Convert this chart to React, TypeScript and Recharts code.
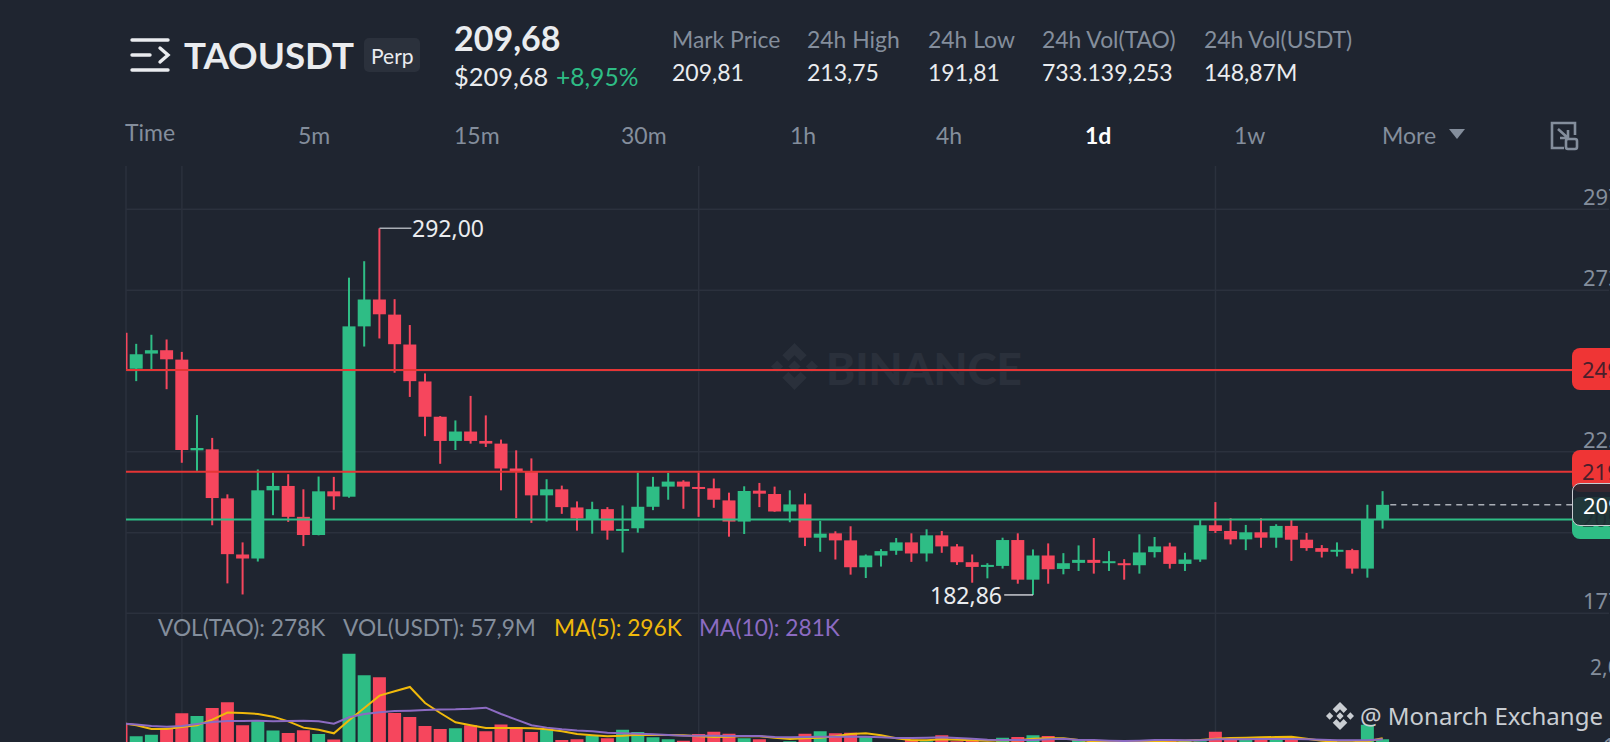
import {
  Bar,
  CartesianGrid,
  Cell,
  ComposedChart,
  Line,
  ReferenceLine,
  XAxis,
  YAxis,
} from 'recharts';

// one entry per daily candle, first one is cut off by the left edge of the chart
const opens = [
  260.9, 250.2, 254.7, 255.7, 252.9, 225.9, 226.2, 211.6, 194.9, 193.7, 214.0, 215.3, 206.1, 200.7,
  213.7, 212.1, 262.8, 270.8, 266.3, 257.4, 246.4, 235.9, 228.7, 231.5, 228.7, 227.9, 220.5, 219.5,
  212.5, 214.3, 208.9, 205.3, 208.4, 202.1, 202.7, 209.1, 215.1, 216.6, 215.0, 214.6, 211.0, 204.7,
  213.9, 212.9, 207.7, 209.8, 199.9, 201.2, 199.1, 191.1, 194.6, 196.0, 198.5, 195.2, 200.6, 197.3,
  192.6, 191.2, 191.5, 199.2, 187.4, 194.6, 190.6, 192.4, 193.3, 192.4, 192.3, 191.7, 195.6, 197.3,
  192.1, 193.4, 203.6, 201.9, 199.4, 201.5, 199.9, 203.4, 199.3, 196.8, 195.7, 196.2, 190.7, 205.4,
];
const closes = [
  250.0, 254.5, 255.7, 253.0, 226.0, 226.6, 211.7, 195.0, 193.7, 214.0, 215.3, 206.1, 200.7, 213.7,
  212.2, 262.8, 270.8, 266.4, 257.5, 246.5, 235.9, 228.7, 231.5, 228.7, 227.9, 220.5, 219.6, 212.5,
  214.3, 209.0, 205.6, 208.4, 202.0, 202.5, 209.1, 215.1, 216.6, 215.1, 214.5, 211.2, 204.7, 213.8,
  213.0, 207.7, 209.8, 199.9, 201.1, 199.1, 191.1, 194.6, 195.9, 198.5, 195.2, 200.6, 197.3, 192.6,
  191.2, 191.8, 199.2, 187.4, 194.6, 190.5, 192.3, 193.3, 192.4, 192.9, 191.7, 195.5, 197.3, 192.1,
  193.4, 203.6, 201.9, 199.4, 201.5, 199.9, 203.4, 199.3, 196.8, 195.7, 196.3, 190.7, 205.4, 209.68,
];
const highs = [
  261.0, 257.6, 260.3, 258.9, 255.2, 236.4, 229.6, 212.8, 198.5, 220.2, 219.3, 218.8, 214.3, 218.1,
  218.0, 277.3, 282.2, 292.0, 270.9, 263.2, 248.8, 236.1, 234.8, 242.1, 236.3, 229.1, 225.9, 223.5,
  217.3, 215.4, 210.7, 210.6, 209.0, 209.5, 219.3, 218.0, 219.2, 217.0, 219.3, 217.5, 213.3, 215.2,
  216.2, 215.1, 214.0, 213.1, 204.9, 201.8, 203.3, 194.9, 196.5, 199.8, 201.2, 202.4, 201.9, 198.0,
  194.9, 192.3, 199.9, 201.2, 196.4, 198.2, 195.3, 197.6, 199.8, 195.9, 193.5, 200.9, 200.1, 198.4,
  195.4, 205.2, 210.5, 205.7, 203.7, 205.7, 203.9, 205.2, 201.3, 197.7, 198.5, 196.6, 209.7, 213.75,
];
const lows = [
  249.8, 246.5, 250.0, 244.1, 222.2, 219.8, 203.6, 186.3, 183.0, 192.8, 206.6, 204.6, 197.4, 200.6,
  208.2, 211.8, 256.8, 259.2, 249.0, 241.8, 230.1, 221.9, 226.0, 227.9, 226.9, 214.0, 205.7, 204.3,
  204.7, 207.0, 202.0, 201.1, 199.3, 195.5, 201.4, 208.1, 211.2, 208.5, 206.1, 208.8, 200.2, 201.0,
  209.0, 207.6, 204.5, 197.4, 195.7, 193.4, 188.9, 187.9, 191.3, 194.8, 192.7, 192.8, 195.4, 191.8,
  186.5, 187.8, 190.7, 186.2, 182.86, 186.2, 189.0, 190.0, 189.2, 190.0, 187.4, 189.2, 194.0, 190.7,
  190.0, 192.7, 201.3, 197.9, 196.2, 196.9, 196.9, 193.0, 196.0, 194.0, 194.3, 189.2, 188.0, 202.6,
];
// volumes and moving averages in thousands of TAO
const volumes = [
  550, 328, 356, 456, 712, 667, 800, 895, 512, 589, 423, 384, 428, 367, 273, 1706, 1345, 1312, 717,
  650, 500, 450, 462, 512, 412, 523, 484, 400, 439, 267, 278, 339, 295, 439, 400, 311, 278, 256, 367,
  406, 372, 295, 278, 234, 245, 372, 411, 378, 389, 317, 205, 205, 272, 245, 345, 245, 267, 200, 306,
  317, 345, 334, 234, 267, 267, 234, 222, 245, 234, 256, 250, 245, 406, 267, 267, 284, 278, 284, 222,
  205, 205, 217, 522, 278,
];
const ma5 = [
  550, 512, 450, 450, 484, 512, 606, 723, 717, 700, 656, 578, 473, 439, 378, 595, 800, 1006, 1078,
  1150, 884, 717, 562, 512, 467, 467, 467, 462, 445, 412, 367, 345, 328, 339, 356, 350, 350, 345, 328,
  317, 322, 333, 328, 306, 283, 295, 306, 328, 367, 378, 345, 295, 261, 261, 278, 272, 261, 256, 261,
  261, 289, 295, 295, 267, 245, 234, 234, 239, 239, 256, 256, 267, 289, 300, 306, 311, 317, 322, 289,
  256, 234, 228, 245, 296,
];
const ma10 = [
  545, 523, 500, 489, 500, 534, 567, 584, 584, 589, 578, 584, 589, 578, 539, 645, 700, 728, 750, 756,
  767, 773, 778, 789, 806, 700, 606, 512, 473, 445, 423, 411, 389, 378, 372, 361, 350, 339, 339, 339,
  333, 333, 333, 317, 311, 317, 322, 322, 322, 322, 311, 300, 300, 306, 311, 300, 289, 272, 267, 267,
  267, 278, 289, 267, 267, 256, 250, 256, 267, 267, 261, 261, 278, 278, 278, 284, 284, 284, 278, 272,
  261, 261, 261, 281,
];

const priceTicks = [297.65, 273.55, 249.5, 225.5, 201.4, 177.4];
const priceLines = { red1: 249.8, red2: 219.5, green: 205.3 };
const lastPrice = 209.68;
const gridDays = [3, 37, 71];

const statLabels = ['Mark Price', '24h High', '24h Low', '24h Vol(TAO)', '24h Vol(USDT)'];
const statValues = ['209,81', '213,75', '191,81', '733.139,253', '148,87M'];
const tabLabels = ['Time', '5m', '15m', '30m', '1h', '4h', '1d', '1w', 'More'];
const statX = [672, 807, 928, 1042, 1204];
const tabX = [125, 298, 454, 621, 790, 936, 1085, 1234, 1382];

const chartData = opens.map((open, i) => ({
  day: i - 1,
  open,
  close: closes[i],
  high: highs[i],
  low: lows[i],
  range: [lows[i], highs[i]],
  volume: volumes[i],
  ma5: ma5[i],
  ma10: ma10[i],
}));

const GREEN = '#2EBD85';
const RED = '#F6465D';
const BG = '#1F2530';
const GRID = '#2B313D';
const MUTED = '#848E9C';
const LIGHT = '#EAECEF';
const X_DOMAIN: [number, number] = [-0.678, 96.89];
const CHART_FONT = '"Noto Sans", sans-serif';
const HEAD_FONT = 'Lato, sans-serif';

const Candle = (props: any) => {
  const { x, y, width, height, payload } = props;
  const perUnit = Math.abs(height) / (payload.high - payload.low);
  const toY = (p: number) => y + (payload.high - p) * perUnit;
  const top = toY(Math.max(payload.open, payload.close));
  const bottom = toY(Math.min(payload.open, payload.close));
  const color = payload.close >= payload.open ? GREEN : RED;
  return (
    <g>
      <rect x={x + width / 2 - 1} y={y} width={2} height={Math.abs(height)} fill={color} />
      <rect x={x} y={top} width={width} height={Math.max(bottom - top, 2)} fill={color} />
    </g>
  );
};

const PriceTick = (props: any) => (
  <text x={1583} y={props.y - 12} dy={8} fill={MUTED} fontSize={22} fontFamily={CHART_FONT}>
    {props.payload.value.toFixed(2).replace('.', ',')}
  </text>
);

const Txt = ({ x, y, size, color, weight, font, children }: any) => (
  <div
    style={{
      position: 'absolute',
      left: x,
      top: y,
      transform: 'translateY(-50%)',
      fontSize: size,
      color: color || LIGHT,
      fontWeight: weight || 400,
      fontFamily: font || HEAD_FONT,
      whiteSpace: 'nowrap',
      lineHeight: 1,
    }}
  >
    {children}
  </div>
);

const Tag = ({ top, height, bg, border, color, z, label }: any) => (
  <div
    style={{
      position: 'absolute',
      left: 1572,
      top,
      width: 60,
      height,
      background: bg,
      border,
      boxSizing: 'border-box',
      borderRadius: 8,
      zIndex: z,
    }}
  >
    <div
      style={{
        position: 'absolute',
        left: 10,
        top: '50%',
        transform: 'translateY(-50%)',
        color,
        fontSize: 22,
        fontFamily: CHART_FONT,
        lineHeight: 1,
      }}
    >
      {label}
    </div>
  </div>
);

const BinanceMark = ({ x, y, size, color }: any) => (
  <svg style={{ position: 'absolute', left: x, top: y }} width={size} height={size} viewBox="0 0 100 100">
    <g fill={color}>
      <polygon points="50,0 76,26 63,39 50,26 37,39 24,26" />
      <polygon points="50,100 76,74 63,61 50,74 37,61 24,74" />
      <polygon points="13,37 26,50 13,63 0,50" />
      <polygon points="87,37 100,50 87,63 74,50" />
      <polygon points="50,37 63,50 50,63 37,50" />
    </g>
  </svg>
);

export default function App() {
  return (
    <div
      style={{
        position: 'fixed',
        left: 0,
        top: 0,
        width: 1610,
        height: 742,
        overflow: 'hidden',
        background: BG,
      }}
    >
      {/* header */}
      <svg style={{ position: 'absolute', left: 128, top: 36 }} width={44} height={38}>
        <g stroke={LIGHT} strokeWidth={3.4} strokeLinecap="round" fill="none">
          <line x1={4} y1={4} x2={40} y2={4} />
          <line x1={4} y1={19} x2={22} y2={19} />
          <line x1={4} y1={34} x2={40} y2={34} />
          <polyline points="32,12 40,19 32,26" />
        </g>
      </svg>
      <Txt x={184} y={55} size={36.7} weight={700}>TAOUSDT</Txt>
      <div
        style={{
          position: 'absolute',
          left: 364,
          top: 38,
          width: 56,
          height: 34,
          background: '#2B313C',
          borderRadius: 5,
        }}
      />
      <Txt x={371} y={55} size={21}>Perp</Txt>
      <Txt x={454} y={38} size={34} weight={700}>209,68</Txt>
      <Txt x={454} y={77} size={25.4}>$209,68</Txt>
      <Txt x={556} y={77} size={24.6} color={GREEN}>+8,95%</Txt>
      {statLabels.map((label, i) => (
        <div key={label}>
          <Txt x={statX[i]} y={39} size={22.9} color={MUTED}>{label}</Txt>
          <Txt x={statX[i]} y={72} size={23}>{statValues[i]}</Txt>
        </div>
      ))}
      {tabLabels.map((label, i) => (
        <Txt
          key={label}
          x={tabX[i]}
          y={i === 0 ? 132 : 135}
          size={23}
          color={label === '1d' ? '#FFFFFF' : MUTED}
          weight={label === '1d' ? 700 : 400}
        >
          {label}
        </Txt>
      ))}
      <svg style={{ position: 'absolute', left: 1448, top: 128 }} width={18} height={12}>
        <polygon points="1,1 17,1 9,11" fill={MUTED} />
      </svg>
      <svg style={{ position: 'absolute', left: 1548, top: 120 }} width={34} height={32}>
        <g stroke={MUTED} strokeWidth={2.6} fill="none">
          <path d="M16,28 H4 V3 H27 V15" />
          <rect x={18} y={19} width={11} height={10} rx={2} />
          <path d="M10,9 L20,18 M20,10 V18 H12" />
        </g>
      </svg>

      {/* watermark sits under the candles */}
      <BinanceMark x={771} y={343} size={47} color="#2A303B" />
      <Txt x={826} y={368} size={44} weight={900} color="#2A303B" font={HEAD_FONT}>BINANCE</Txt>

      {/* price pane */}
      <div style={{ position: 'absolute', left: 0, top: 165.8 }}>
        <ComposedChart
          width={1610}
          height={455}
          data={chartData}
          margin={{ top: 0, right: 0, bottom: 0, left: 126 }}
        >
          <CartesianGrid
            stroke={GRID}
            strokeWidth={1.5}
            horizontalValues={priceTicks}
            verticalValues={[X_DOMAIN[0], ...gridDays]}
          />
          <XAxis
            dataKey="day"
            type="number"
            domain={X_DOMAIN}
            allowDataOverflow
            ticks={[X_DOMAIN[0], ...gridDays]}
            interval={0}
            hide
          />
          <YAxis
            orientation="right"
            width={1}
            domain={[175.1, 310.54]}
            allowDataOverflow
            ticks={priceTicks}
            interval={0}
            axisLine={false}
            tickLine={false}
            tick={PriceTick}
          />
          <Bar dataKey="range" barSize={13} shape={Candle} isAnimationActive={false} />
          <ReferenceLine y={priceLines.red1} stroke="#E53535" strokeWidth={2} />
          <ReferenceLine y={priceLines.red2} stroke="#E53535" strokeWidth={2} />
          <ReferenceLine y={priceLines.green} stroke={GREEN} strokeWidth={2} />
          <ReferenceLine
            segment={[
              { x: 82.5, y: lastPrice },
              { x: 96.8, y: lastPrice },
            ]}
            stroke="#A9AEB5"
            strokeWidth={1.5}
            strokeDasharray="6 5"
          />
          <ReferenceLine
            segment={[
              { x: 16, y: 292 },
              { x: 18.1, y: 292 },
            ]}
            stroke="#A9AEB5"
            strokeWidth={1.5}
          />
          <ReferenceLine
            segment={[
              { x: 57.1, y: 182.86 },
              { x: 59, y: 182.86 },
            ]}
            stroke="#C9CCD1"
            strokeWidth={1.5}
          />
        </ComposedChart>
      </div>

      {/* volume pane, baseline falls below the visible page */}
      <div style={{ position: 'absolute', left: 0, top: 620.8 }}>
        <ComposedChart
          width={1610}
          height={135}
          data={chartData}
          margin={{ top: 0, right: 1, bottom: 0, left: 126 }}
        >
          <CartesianGrid
            stroke={GRID}
            strokeWidth={1.5}
            horizontal={false}
            verticalValues={[X_DOMAIN[0], ...gridDays]}
          />
          <XAxis
            dataKey="day"
            type="number"
            domain={X_DOMAIN}
            allowDataOverflow
            ticks={[X_DOMAIN[0], ...gridDays]}
            interval={0}
            hide
          />
          <YAxis hide domain={[0, 2250]} />
          <Bar dataKey="volume" barSize={13} isAnimationActive={false}>
            {chartData.map((d) => (
              <Cell key={d.day} fill={d.close >= d.open ? GREEN : RED} />
            ))}
          </Bar>
          <Line dataKey="ma5" type="linear" stroke="#F0B90B" strokeWidth={2} dot={false} isAnimationActive={false} />
          <Line dataKey="ma10" type="linear" stroke="#8C6BC2" strokeWidth={2} dot={false} isAnimationActive={false} />
        </ComposedChart>
      </div>

      {/* extreme labels */}
      <Txt x={412} y={228} size={23} color="#EAECEF" font={CHART_FONT}>292,00</Txt>
      <Txt x={930} y={595} size={23} color="#EAECEF" font={CHART_FONT}>182,86</Txt>

      {/* volume legend */}
      <Txt x={158} y={628} size={22.7} color={MUTED}>VOL(TAO): 278K</Txt>
      <Txt x={343} y={628} size={22.7} color={MUTED}>VOL(USDT): 57,9M</Txt>
      <Txt x={554} y={628} size={22.7} color="#F0B90B">MA(5): 296K</Txt>
      <Txt x={699} y={628} size={22.7} color="#8C6BC2">MA(10): 281K</Txt>

      {/* price tags on the right, cut by the page edge */}
      <Tag top={348} height={42} bg="#EF3535" color="#4A1F2B" z={2} label="249,80" />
      <Tag top={450} height={42} bg="#EF3535" color="#4A1F2B" z={2} label="219,50" />
      <Tag top={497} height={42} bg={GREEN} color="#1F5A4A" z={2} label="205,30" />
      <Tag top={483} height={43} bg="rgba(31,37,48,0.88)" border="1.5px solid #C9CCD1" color="#FFFFFF" z={3} label="209,68" />

      <Txt x={1590} y={667} size={21} color={MUTED} font={CHART_FONT}>2,00M</Txt>
      <Txt x={1603} y={746} size={21} color={MUTED} font={CHART_FONT}>1,00M</Txt>

      {/* credit */}
      <BinanceMark x={1326} y={702} size={28} color="#C9CDD2" />
      <Txt x={1360} y={716} size={24} color="#C9CDD2" font={CHART_FONT}>@ Monarch Exchange</Txt>
    </div>
  );
}
